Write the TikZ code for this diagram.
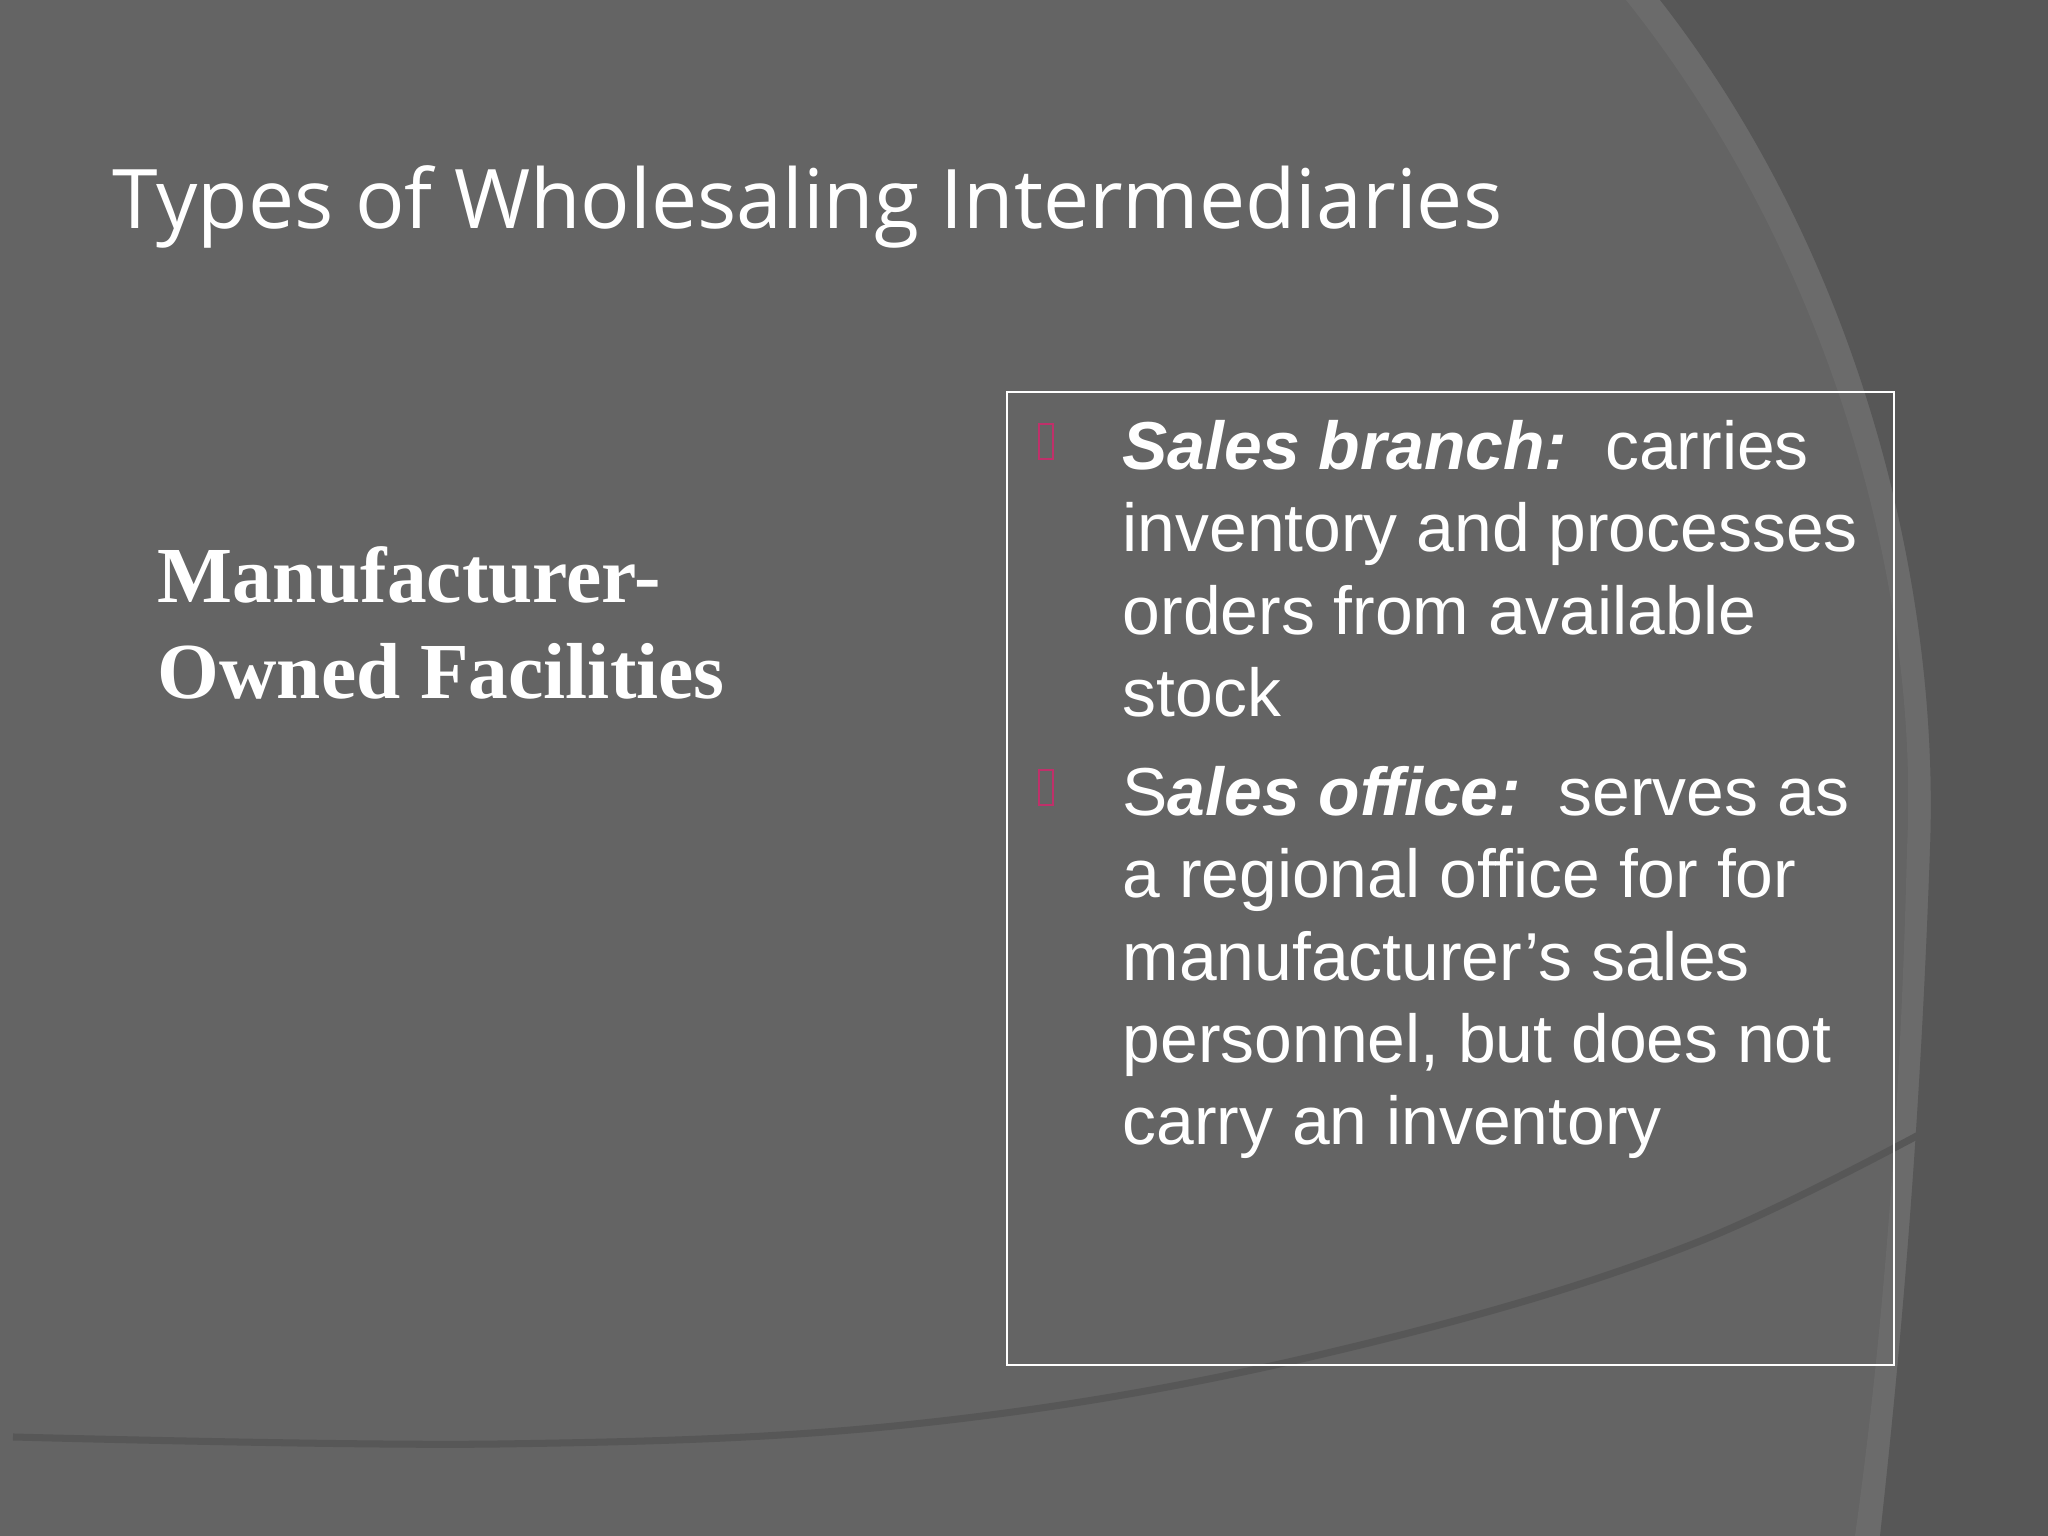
\documentclass[tikz,border=0pt]{standalone}
\usepackage{fontspec}
\setmainfont{Liberation Sans}
\newfontfamily\titlefont{Open Sans}
\newfontfamily\serifb{Liberation Serif}
\definecolor{bg}{HTML}{646464}
\definecolor{dark}{HTML}{575757}
\definecolor{band}{HTML}{6B6B6B}
\definecolor{pinkb}{HTML}{C0306A}
\tikzset{
  line/.style={anchor=base west, inner sep=0pt, text=white, font=\fontsize{19.3pt}{23pt}\selectfont},
  bulletbox/.style={draw=pinkb, line width=0.7pt, minimum width=0.14cm, minimum height=0.35cm, inner sep=0pt, anchor=south west}
}
\begin{document}
\begin{tikzpicture}
\useasboundingbox (0,0) rectangle (20.48,15.36);
\fill[bg] (0,0) rectangle (20.48,15.36);
% lighter band and dark region on the right
\fill[band] (16.26,15.36) .. controls (18.3,12.8) and (19.2,9.5) .. (19.07,6.87) .. controls (19.0,4.0) and (18.8,1.8) .. (18.55,0) -- (20.48,0) -- (20.48,15.36) -- cycle;
\fill[dark] (16.6,15.36) .. controls (18.6,12.8) and (19.4,9.5) .. (19.3,6.87) .. controls (19.2,4.0) and (19.0,1.8) .. (18.8,0) -- (20.48,0) -- (20.48,15.36) -- cycle;
% bottom curve
\draw[dark, line width=2pt] plot[smooth, tension=0.6] coordinates {(0.13,0.99) (5,0.92) (9.14,1.12) (13.06,1.78) (16.98,2.94) (20.48,4.72)};
% title
\node[anchor=base west, inner sep=0pt, text=white, font=\titlefont\fontsize{23.4pt}{28pt}\selectfont] (title) at (1.12,13.07) {Types of Wholesaling Intermediaries};
% left text
\node[anchor=base west, inner sep=0pt, text=white, font=\serifb\bfseries\fontsize{22.6pt}{27pt}\selectfont] (l1) at (1.57,9.33) {Manufacturer-};
\node[anchor=base west, inner sep=0pt, text=white, font=\serifb\bfseries\fontsize{22.6pt}{27pt}\selectfont] (l2) at (1.57,8.37) {Owned Facilities};
% box
\draw[white, line width=0.8pt] (10.07,1.71) rectangle (18.94,11.44);
\node[bulletbox] (b1) at (10.38,10.76) {};
\node[bulletbox] (b2) at (10.38,7.30) {};
\node[line] (t1) at (11.22,10.66) {\textbf{\textit{Sales branch:}}\ \ carries};
\node[line] (t2) at (11.22,9.84) {inventory and processes};
\node[line] (t3) at (11.22,9.01) {orders from available};
\node[line] (t4) at (11.22,8.19) {stock};
\node[line] (t5) at (11.22,7.20) {S\textbf{\textit{ales office:}}\ \ serves as};
\node[line] (t6) at (11.22,6.38) {a regional office for for};
\node[line] (t7) at (11.22,5.55) {manufacturer’s sales};
\node[line] (t8) at (11.22,4.73) {personnel, but does not};
\node[line] (t9) at (11.22,3.91) {carry an inventory};
\end{tikzpicture}
\end{document}
